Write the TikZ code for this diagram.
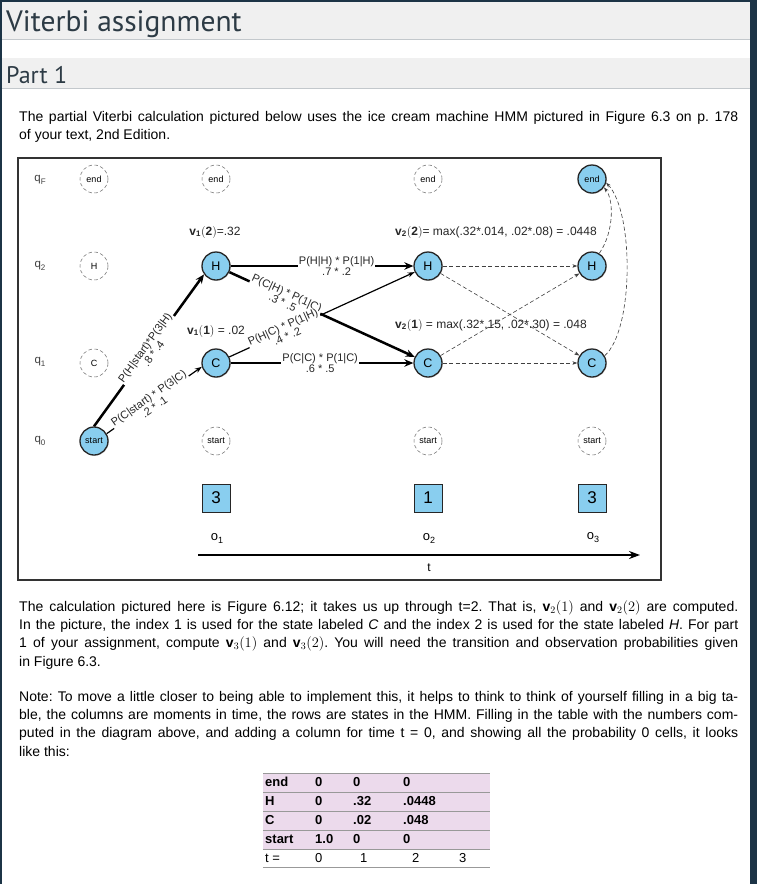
\documentclass[tikz,border=0pt]{standalone}
\usepackage{fontspec}
\setmainfont{Liberation Sans}
\newfontfamily\titlefont{PT Sans}
\usetikzlibrary{arrows.meta,shadows}
\pgfdeclarelayer{edges}
\pgfsetlayers{edges,main}
\definecolor{navy}{RGB}{28,52,70}
\definecolor{barbg}{RGB}{240,240,240}
\definecolor{barline}{RGB}{195,200,204}
\definecolor{headtxt}{RGB}{45,59,69}
\definecolor{nodeblue}{RGB}{137,206,239}
\definecolor{lav}{RGB}{236,218,236}
\frenchspacing
\newcommand\bodyfont{\fontsize{14}{16}\selectfont}
\newcommand\jline[3]{\node[anchor=base west, inner sep=0pt] (#1) at (19,#2) {\bodyfont\makebox[719pt][s]{#3}};}
\newcommand\pline[3]{\node[anchor=base west, inner sep=0pt] (#1) at (19,#2) {\bodyfont #3};}
\newcommand\qlab[1]{q\raisebox{-2.5pt}{\fontsize{8}{8}\selectfont #1}}
\newcommand\olab[1]{o\raisebox{-3pt}{\fontsize{9}{9}\selectfont #1}}
\begin{document}
\begin{tikzpicture}[x=1pt,y=-1pt,
  filled/.style={circle, draw=black!85, line width=1.3pt, fill=nodeblue, minimum size=28pt, inner sep=0pt,
     font=\fontsize{12.5}{12.5}\selectfont, drop shadow={shadow xshift=0.8pt, shadow yshift=-0.8pt, opacity=0.35}},
  ghost/.style={circle, draw=black!55, dash pattern=on 3.5pt off 2.5pt, line width=0.55pt, minimum size=28pt,
     inner sep=0pt, font=\fontsize{9}{9}\selectfont},
  obsbox/.style={rectangle, draw=black!85, line width=1pt, fill=nodeblue, minimum size=28pt, inner sep=0pt,
     font=\fontsize{17}{17}\selectfont, drop shadow={shadow xshift=0.8pt, shadow yshift=-0.8pt, opacity=0.35}},
  thickarr/.style={line width=2.5pt, -{Stealth[length=9pt,width=7.5pt]}},
  thinarr/.style={line width=1.2pt, -{Stealth[length=7pt,width=5pt]}},
  dasharr/.style={line width=0.6pt, dash pattern=on 4pt off 2.5pt, draw=black!75, -{Stealth[length=5pt,width=3.5pt]}},
  lbl/.style={sloped, fill=white, inner sep=1pt, align=center, font=\fontsize{11}{10.5}\selectfont, text=black!85},
  rowlab/.style={font=\fontsize{11.5}{11.5}\selectfont, text=black!75},
  vlab/.style={font=\fontsize{12}{12}\selectfont, text=black!85},
  tcell/.style={anchor=base west, inner sep=0pt, font=\fontsize{13}{13}\selectfont\bfseries},
  tplain/.style={anchor=base west, inner sep=0pt, font=\fontsize{13}{13}\selectfont}
]
\useasboundingbox (0,0) rectangle (757,884);
\begin{pgfonlayer}{edges}
\fill[white] (0,0) rectangle (757,884);
\end{pgfonlayer}
% page frame
\fill[navy] (0,0) rectangle (757,2);
\fill[navy] (0,0) rectangle (2,884);
\fill[navy] (750,0) rectangle (757,884);
% headings
\fill[barbg] (2,2) rectangle (750,39);
\draw[barline] (2,39.5) -- (750,39.5);
\node[anchor=base west, inner sep=0pt, text=headtxt, font=\titlefont\fontsize{29.5}{29.5}\selectfont] (title) at (6,31) {Viterbi assignment};
\fill[barbg] (2,58) rectangle (750,88);
\draw[barline] (2,88.5) -- (750,88.5);
\node[anchor=base west, inner sep=0pt, text=headtxt, font=\titlefont\fontsize{24}{24}\selectfont] (part) at (6,83.5) {Part 1};
\jline{p1a}{121}{The partial Viterbi calculation pictured below uses the ice cream machine HMM pictured in Figure 6.3 on p. 178}
\pline{p1b}{139}{of your text, 2nd Edition.}
% diagram frame
\draw[line width=1.1pt, black!80] (18,158) rectangle (661,580);
% row labels
\node[rowlab] (qF) at (40,180) {\qlab{F}};
\node[rowlab] (q2) at (40,266) {\qlab{2}};
\node[rowlab] (q1) at (40,362) {\qlab{1}};
\node[rowlab] (q0) at (40,441) {\qlab{0}};
% column 0
\node[ghost] (E0) at (94,179) {end};
\node[ghost] (H0) at (94,266) {H};
\node[ghost] (C0) at (94,363) {C};
\node[filled, font=\fontsize{9}{9}\selectfont] (S0) at (94,441) {start};
% column 1
\node[ghost] (E1) at (216,179) {end};
\node[filled] (H1) at (216,266) {H};
\node[filled] (C1) at (216,363) {C};
\node[ghost] (S1) at (216,441) {start};
% column 2
\node[ghost] (E2) at (428,179) {end};
\node[filled] (H2) at (428,266) {H};
\node[filled] (C2) at (428,363) {C};
\node[ghost] (S2) at (428,441) {start};
% column 3
\node[filled, font=\fontsize{9}{9}\selectfont] (E3) at (592,179) {end};
\node[filled] (H3) at (592,266) {H};
\node[filled] (C3) at (592,363) {C};
\node[ghost] (S3) at (592,441) {start};
% observations
\node[obsbox] (B1) at (216,498) {3};
\node[obsbox] (B2) at (428,498) {1};
\node[obsbox] (B3) at (592,498) {3};
\node[font=\fontsize{13}{13}\selectfont] (o1) at (217,538) {\olab{1}};
\node[font=\fontsize{13}{13}\selectfont] (o2) at (429,538) {\olab{2}};
\node[font=\fontsize{13}{13}\selectfont] (o3) at (593,538) {\olab{3}};
\coordinate (axs) at (198,555);
\coordinate (axe) at (640,555);
\draw[line width=2.2pt, -{Stealth[length=11pt,width=8pt]}] (axs) -- (axe);
\node[font=\fontsize{12}{12}\selectfont] (tl) at (429,568) {t};
% v labels
\node[vlab] (v12) at (215,232) {$\mathbf{v}_{\mathbf{1}}\mathbf{(2)}$=.32};
\node[vlab] (v11) at (216,331) {$\mathbf{v}_{\mathbf{1}}\mathbf{(1)}$ = .02};
\node[vlab, anchor=west, inner sep=0pt] (v22) at (395,232) {$\mathbf{v}_{\mathbf{2}}\mathbf{(2)}$= max(.32*.014, .02*.08) = .0448};
\node[vlab, anchor=west, inner sep=0pt] (v21) at (395,325) {$\mathbf{v}_{\mathbf{2}}\mathbf{(1)}$ = max(.32*.15, .02*.30) = .048};
\begin{pgfonlayer}{edges}
% solid transitions
\draw[thickarr] (S0.90) -- (H1.215);
\draw[thinarr] (S0.30) -- (C1.195);
\draw[thickarr] (H1) -- (H2);
\draw[thickarr] (C1) -- (C2);
\draw[thinarr] (C1) -- (H2);
\draw[thickarr] (H1) -- (C2);
% labels on transitions
\path (S0.90) -- (H1.215) node[lbl, pos=0.5] (lSH) {P(H|start)*P(3|H)\\.8 * .4};
\path (S0.30) -- (C1.195) node[lbl, pos=0.47] (lSC) {P(C|start) * P(3|C)\\.2 * .1};
\path (H1) -- (H2) node[lbl, pos=0.58] (lHH) {P(H|H) * P(1|H)\\.7 * .2};
\path (C1) -- (C2) node[lbl, pos=0.49] (lCC) {P(C|C) * P(1|C)\\.6 * .5};
\path (H1) -- (C2) node[lbl, pos=0.3] (lHC) {P(C|H) * P(1|C)\\.3 * .5};
\path (C1) -- (H2) node[lbl, pos=0.3] (lCH) {P(H|C) * P(1|H)\\.4 * .2};
% dashed transitions
\draw[dasharr] (H2) -- (H3);
\draw[dasharr] (H2) -- (C3);
\draw[dasharr] (C2) -- (H3);
\draw[dasharr] (C2) -- (C3);
\draw[dasharr] (H3.60) .. controls (614,232) and (614,200) .. (E3.-35);
\draw[dasharr] (C3.30) .. controls (634,330) and (634,212) .. (E3.-15);
\end{pgfonlayer}
% lower text
\jline{p2a}{611.5}{The calculation pictured here is Figure 6.12; it takes us up through t=2. That is, $\mathbf{v}_2(1)$ and $\mathbf{v}_2(2)$ are computed.}
\jline{p2b}{629.5}{In the picture, the index 1 is used for the state labeled \textit{C} and the index 2 is used for the state labeled \textit{H}. For part}
\jline{p2c}{647.5}{1 of your assignment, compute $\mathbf{v}_3(1)$ and $\mathbf{v}_3(2)$. You will need the transition and observation probabilities given}
\pline{p2d}{666}{in Figure 6.3.}
\jline{p3a}{701.5}{Note: To move a little closer to being able to implement this, it helps to think to think of yourself filling in a big ta-}
\jline{p3b}{719.5}{ble, the columns are moments in time, the rows are states in the HMM. Filling in the table with the numbers com-}
\jline{p3c}{737.5}{puted in the diagram above, and adding a column for time t = 0, and showing all the probability 0 cells, it looks}
\pline{p3d}{756}{like this:}
% table
\fill[lav] (263,773) rectangle (490,849);
\foreach \yy in {773,792,811,830,849,867} \draw[black!40, line width=0.8pt] (263,\yy) -- (490,\yy);
\node[tcell] (r1a) at (265,786.5) {end};
\node[tcell] (r1b) at (315,786.5) {0};
\node[tcell] (r1c) at (353,786.5) {0};
\node[tcell] (r1d) at (403,786.5) {0};
\node[tcell] (r2a) at (265,805.5) {H};
\node[tcell] (r2b) at (315,805.5) {0};
\node[tcell] (r2c) at (353,805.5) {.32};
\node[tcell] (r2d) at (403,805.5) {.0448};
\node[tcell] (r3a) at (265,824.5) {C};
\node[tcell] (r3b) at (315,824.5) {0};
\node[tcell] (r3c) at (353,824.5) {.02};
\node[tcell] (r3d) at (403,824.5) {.048};
\node[tcell] (r4a) at (265,843.5) {start};
\node[tcell] (r4b) at (315,843.5) {1.0};
\node[tcell] (r4c) at (353,843.5) {0};
\node[tcell] (r4d) at (403,843.5) {0};
\node[tplain] (r5a) at (265,862.5) {t =};
\node[tplain] (r5b) at (315,862.5) {0};
\node[tplain] (r5c) at (360,862.5) {1};
\node[tplain] (r5d) at (412,862.5) {2};
\node[tplain] (r5e) at (459,862.5) {3};
\end{tikzpicture}
\end{document}
